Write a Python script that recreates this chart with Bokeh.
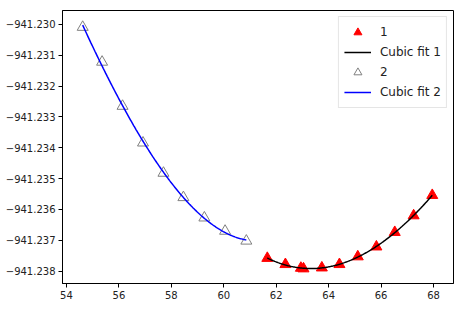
import numpy as np
from bokeh.plotting import figure
from bokeh.models import (Range1d, FixedTicker, CustomJSTickFormatter, Legend, LegendItem,
                          ColumnDataSource)
from bokeh.embed import file_html
from bokeh.resources import INLINE

# Series 1 (red filled triangles)
x1 = [61.66, 62.35, 62.94, 63.04, 63.74, 64.41, 65.11, 65.82, 66.52, 67.24, 67.95]
y1 = [-941.23758, -941.23778, -941.23790, -941.23792, -941.23789, -941.23778,
      -941.23753, -941.23721, -941.23674, -941.23620, -941.23554]

# Series 2 (hollow gray triangles)
x2 = [54.62, 55.36, 56.14, 56.92, 57.70, 58.46, 59.26, 60.05, 60.86]
y2 = [-941.23009, -941.23122, -941.23265, -941.23384, -941.23482, -941.23561,
      -941.23627, -941.23670, -941.23702]

x_ticks = [54, 56, 58, 60, 62, 64, 66, 68]
y_ticks = [-941.230, -941.231, -941.232, -941.233, -941.234, -941.235,
           -941.236, -941.237, -941.238]

labels = ["1", "Cubic fit 1", "2", "Cubic fit 2"]

# cubic fits of each series
c1 = np.polyfit(np.array(x1) - 60.0, np.array(y1) + 941.0, 3)
c2 = np.polyfit(np.array(x2) - 60.0, np.array(y2) + 941.0, 3)
fx1 = np.linspace(min(x1), max(x1), 200)
fy1 = np.polyval(c1, fx1 - 60.0) - 941.0
fx2 = np.linspace(min(x2), max(x2), 200)
fy2 = np.polyval(c2, fx2 - 60.0) - 941.0

p = figure(width=474, height=310, output_backend="svg", toolbar_location=None,
           x_range=Range1d(53.85, 68.76), y_range=Range1d(-941.2384, -941.22955),
           min_border_left=62, min_border_top=10, min_border_right=21, min_border_bottom=27)
p.border_fill_color = "white"
p.background_fill_color = "white"
p.grid.visible = False
p.outline_line_color = "black"
p.outline_line_width = 1

p.xaxis.ticker = FixedTicker(ticks=x_ticks)
p.yaxis.ticker = FixedTicker(ticks=y_ticks)
p.yaxis.formatter = CustomJSTickFormatter(code="return tick.toFixed(3).replace('-', '\u2212');")
p.xaxis.formatter = CustomJSTickFormatter(code="return tick.toFixed(0);")
for ax in (p.xaxis[0], p.yaxis[0]):
    ax.major_label_text_font = "DejaVu Sans"
    ax.major_label_text_font_size = "10px"
    ax.major_label_text_color = "#222222"
    ax.major_tick_in = 0
    ax.major_tick_out = 4
    ax.minor_tick_out = 0
    ax.minor_tick_in = 0
    ax.axis_line_color = "black"
    ax.major_tick_line_color = "black"
    ax.major_label_standoff = 3

r1 = p.scatter(x1, y1, marker="triangle", size=11, fill_color="red", line_color="red")
l1 = p.line(fx1, fy1, line_color="black", line_width=1.5)
r2 = p.scatter(x2, y2, marker="triangle", size=11, fill_color=None, line_color="gray", line_width=1)
l2 = p.line(fx2, fy2, line_color="blue", line_width=1.5)

legend = Legend(items=[LegendItem(label=labels[0], renderers=[r1]),
                       LegendItem(label=labels[1], renderers=[l1]),
                       LegendItem(label=labels[2], renderers=[r2]),
                       LegendItem(label=labels[3], renderers=[l2])],
                location="top_right")
legend.label_text_font = "DejaVu Sans"
legend.label_text_font_size = "12px"
legend.label_text_color = "#222222"
legend.glyph_width = 27
legend.glyph_height = 20
legend.label_height = 20
legend.spacing = -3
legend.padding = 5
legend.margin = 6
legend.label_standoff = 9
legend.border_line_color = "#cccccc"
legend.border_line_width = 1
legend.background_fill_alpha = 0.8
p.add_layout(legend)

open("out.html", "w").write(file_html(p, INLINE))
